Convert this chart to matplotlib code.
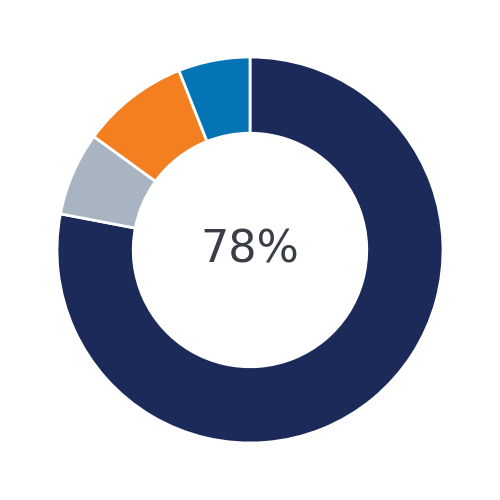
import matplotlib
matplotlib.use("Agg")
import matplotlib.pyplot as plt

labels = ["Main", "Gray", "Orange", "Blue"]
values = [78, 7, 9, 6]
colors = ["#1b2a59", "#a9b4c2", "#f37f20", "#0474b4"]
center_label = "78%"

fig = plt.figure(figsize=(5, 5), dpi=100)
ax = fig.add_axes([0, 0, 1, 1])
ax.pie(values, colors=colors, startangle=90, counterclock=False, radius=1,
       wedgeprops=dict(width=0.395, edgecolor="white", linewidth=2))
ax.text(0, 0, center_label, ha="center", va="center", fontsize=32, color="#3a3f47")
lim = 250 / 193
ax.set_xlim(-lim, lim)
ax.set_ylim(-lim, lim)
ax.set_aspect("equal")
ax.axis("off")
fig.savefig("out.png", dpi=100, facecolor="white")
